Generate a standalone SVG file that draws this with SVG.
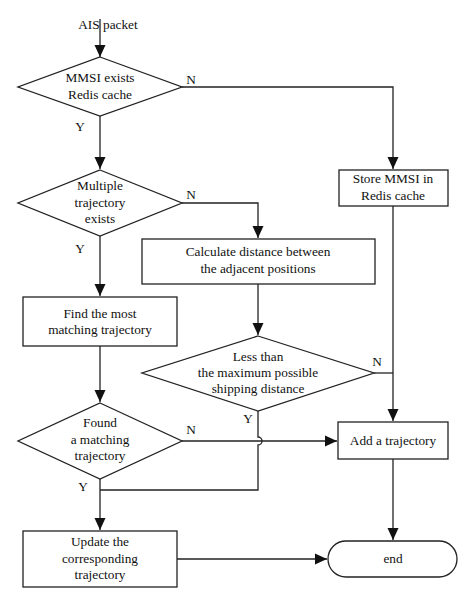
<svg xmlns="http://www.w3.org/2000/svg" width="474" height="604" viewBox="0 0 474 604">
<style>
.s{fill:#fff;stroke:#222;stroke-width:1.3}
.c{fill:none;stroke:#222;stroke-width:1.3}
text{font-family:"Liberation Serif","Times New Roman",serif;font-size:13.3px;fill:#111;text-anchor:middle}
</style>
<defs>
<marker id="a" markerUnits="userSpaceOnUse" markerWidth="12" markerHeight="12" viewBox="0 0 12 12" refX="12" refY="6" orient="auto">
<path d="M0,0.5 L12,6 L0,11.5 Z" fill="#111"/>
</marker>
</defs>
<rect width="474" height="604" fill="#fff"/>
<g id="connectors">
<path class="c" d="M100,19 V57" marker-end="url(#a)"/>
<path class="c" d="M100,116 V169" marker-end="url(#a)"/>
<path class="c" d="M182,87 H393 V169" marker-end="url(#a)"/>
<path class="c" d="M100,236 V296" marker-end="url(#a)"/>
<path class="c" d="M182,203 H258 V238" marker-end="url(#a)"/>
<path class="c" d="M258,284 V335" marker-end="url(#a)"/>
<path class="c" d="M393,206 V421" marker-end="url(#a)"/>
<path class="c" d="M374,373 H393"/>
<path class="c" d="M100,346 V402" marker-end="url(#a)"/>
<path class="c" d="M182,441 H337" marker-end="url(#a)"/>
<path class="c" d="M258,411 V437 a4,4 0 0 1 0,8 V490 H100"/>
<path class="c" d="M100,479 V530" marker-end="url(#a)"/>
<path class="c" d="M177,559 H327" marker-end="url(#a)"/>
<path class="c" d="M393,459 V540" marker-end="url(#a)"/>
</g>
<g id="start"><text x="108" y="29">AIS packet</text></g>
<g id="d1">
<polygon class="s" points="100,57 182,87 100,116 18,87"/>
<text x="100" y="82">MMSI exists</text>
<text x="100" y="99">Redis cache</text>
</g>
<g id="store">
<rect class="s" x="339" y="170" width="109" height="36"/>
<text x="393" y="183">Store MMSI in</text>
<text x="393" y="200">Redis cache</text>
</g>
<g id="d2">
<polygon class="s" points="100,170 182,203 100,236 18,203"/>
<text x="100" y="190">Multiple</text>
<text x="100" y="207">trajectory</text>
<text x="100" y="223">exists</text>
</g>
<g id="calc">
<rect class="s" x="142" y="239" width="233" height="45"/>
<text x="258" y="256">Calculate distance between</text>
<text x="258" y="273">the adjacent positions</text>
</g>
<g id="find">
<rect class="s" x="23" y="297" width="154" height="49"/>
<text x="100" y="318">Find the most</text>
<text x="100" y="334">matching trajectory</text>
</g>
<g id="d3">
<polygon class="s" points="258,336 374,373 258,411 142,373"/>
<text x="258" y="361">Less than</text>
<text x="258" y="377">the maximum possible</text>
<text x="258" y="393">shipping distance</text>
</g>
<g id="d4">
<polygon class="s" points="100,403 182,441 100,479 18,441"/>
<text x="100" y="427">Found</text>
<text x="100" y="444">a matching</text>
<text x="100" y="460">trajectory</text>
</g>
<g id="add">
<rect class="s" x="338" y="422" width="110" height="37"/>
<text x="393" y="445">Add a trajectory</text>
</g>
<g id="update">
<rect class="s" x="23" y="531" width="154" height="56"/>
<text x="100" y="546">Update the</text>
<text x="100" y="563">corresponding</text>
<text x="100" y="579">trajectory</text>
</g>
<g id="end">
<rect class="s" x="328" y="541" width="129" height="36" rx="18"/>
<text x="393" y="563">end</text>
</g>
<g id="labels">
<text x="191" y="84">N</text>
<text x="80" y="131">Y</text>
<text x="191" y="199">N</text>
<text x="80" y="253">Y</text>
<text x="377" y="366">N</text>
<text x="248" y="423">Y</text>
<text x="191" y="434">N</text>
<text x="83" y="491">Y</text>
</g>
</svg>
